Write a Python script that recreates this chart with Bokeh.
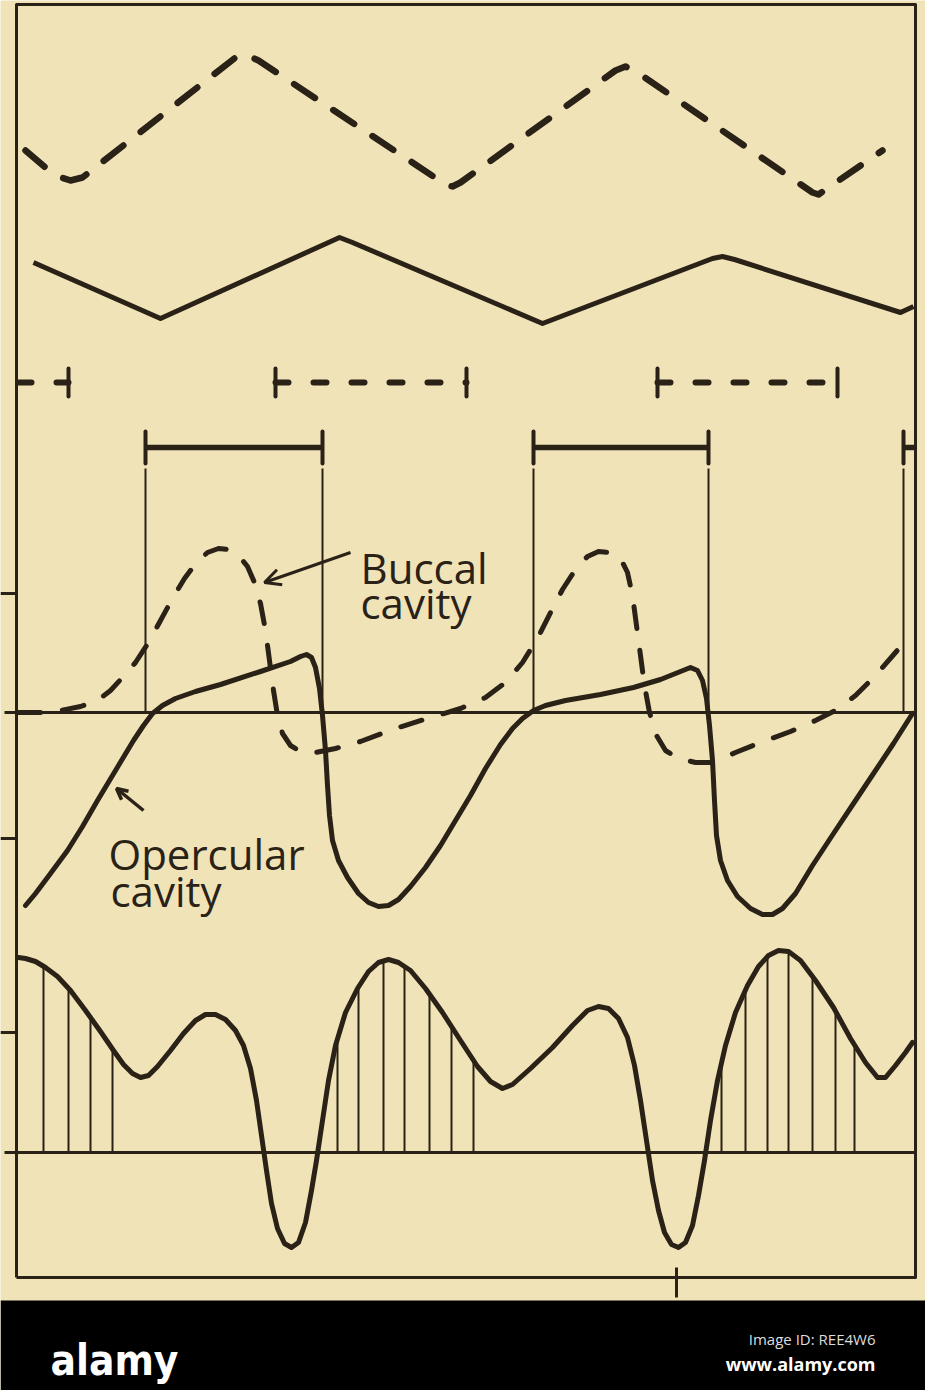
import numpy as np
from bokeh.plotting import figure
from bokeh.models import Range1d, Arrow, OpenHead
from bokeh.core.properties import value
from bokeh.embed import file_html
from bokeh.resources import INLINE

# ---------------- data (time in arbitrary units, values in arbitrary pressure units) ----------
# top trace: dashed zig-zag
t_top = [0.7, 2.7, 4.0, 5.2, 6.4, 21.7, 22.7, 24.0, 42.7, 43.4, 44.2, 59.7, 60.7, 61.9, 79.4, 80.0, 80.7, 86.4]
v_top = [5.0, 3.3, 2.4, 2.0, 2.3, 14.3, 14.6, 14.0, 1.6, 1.4, 1.8, 13.0, 13.4, 12.8, 0.8, 0.6, 1.1, 5.0]

# second trace: solid zig-zag
t_zig = [1.5, 14.2, 31.0, 32.1, 33.4, 52.4, 69.4, 70.4, 71.6, 88.2, 89.5]
v_zig = [6.8, 1.2, 8.8, 9.3, 8.8, 0.7, 7.2, 7.4, 7.1, 1.8, 2.4]

# phase bars
dash_start = [0.0, 25.7, 63.9]
dash_end = [5.0, 44.8, 81.9]
solid_start = [12.7, 51.5, 88.5]
solid_end = [30.4, 69.0, 89.7]

# buccal cavity pressure
t_buc = [0.0, 2.2, 4.2, 6.2, 7.9, 9.2, 10.4, 11.7, 13.0, 14.2, 15.4, 16.6, 17.8, 18.9, 20.0,
         21.0, 22.0, 22.9, 23.6, 24.2, 24.7, 25.1, 25.5, 25.9, 26.4, 27.2, 28.2, 29.7, 31.7,
         34.2, 37.7, 41.2, 44.2, 46.7, 48.7, 50.4, 51.9, 53.2, 54.4, 55.7, 56.9, 58.0, 59.2,
         60.2, 60.9, 61.4, 61.8, 62.2, 62.6, 63.1, 63.8, 64.7, 66.0, 67.7, 69.4, 71.7, 74.2,
         77.2, 79.7, 81.7, 83.7, 85.7, 87.7, 89.2]
v_buc = [0.0, 0.0, 0.2, 0.6, 1.2, 2.2, 3.5, 5.0, 7.0, 9.2, 11.4, 13.4, 15.0, 16.0, 16.4,
         16.3, 15.7, 14.6, 13.0, 10.9, 8.2, 5.2, 2.2, -0.3, -2.1, -3.3, -3.9, -4.0, -3.6,
         -2.9, -1.6, -0.5, 0.4, 1.5, 3.0, 5.0, 7.4, 10.0, 12.3, 14.3, 15.6, 16.1, 16.0,
         15.4, 14.0, 11.7, 8.7, 5.7, 2.7, 0.0, -2.3, -3.8, -4.6, -5.0, -5.0, -4.0, -3.0,
         -1.9, -0.8, 0.2, 1.7, 3.7, 6.0, 7.7]

# opercular cavity pressure
t_op = [0.7, 1.7, 3.2, 4.9, 6.4, 7.9, 9.7, 11.5, 12.5, 13.4, 14.4, 15.7, 17.7, 20.2, 24.2,
        27.2, 28.2, 28.8, 29.3, 29.7, 30.1, 30.4, 30.7, 30.9, 31.1, 31.4, 32.0, 32.9, 34.0,
        35.0, 36.0, 37.0, 38.0, 39.2, 40.7, 42.2, 43.7, 45.2, 46.7, 48.2, 49.4, 50.4, 51.5,
        52.7, 54.7, 58.2, 61.5, 64.2, 66.2, 67.2, 67.9, 68.4, 68.8, 69.1, 69.4, 69.6, 69.8,
        70.2, 70.9, 71.9, 73.2, 74.4, 75.4, 76.4, 77.7, 79.4, 81.5, 83.5, 85.5, 87.5, 89.4]
v_op = [-19.3, -18.1, -16.1, -13.8, -11.4, -8.8, -5.8, -2.8, -1.3, -0.1, 0.7, 1.4, 2.1, 2.8, 4.1,
        5.1, 5.6, 5.8, 5.5, 4.5, 2.4, -0.3, -3.8, -7.3, -10.3, -12.8, -14.8, -16.5, -18.1,
        -19.0, -19.4, -19.3, -18.7, -17.4, -15.5, -13.3, -10.8, -8.3, -5.6, -3.2, -1.6, -0.6, 0.2,
        0.7, 1.2, 1.8, 2.5, 3.3, 4.1, 4.5, 4.2, 3.2, 1.4, -1.3, -4.8, -8.8, -12.3,
        -14.8, -16.8, -18.4, -19.6, -20.2, -20.2, -19.6, -18.1, -15.3, -12.1, -9.1, -6.1, -3.1, -0.1]

# differential pressure (bottom trace)
t_dif = [0.0, 0.7, 1.7, 2.7, 3.9, 5.2, 6.7, 8.2, 9.5, 10.5, 11.4, 12.2, 13.0, 13.9, 15.2,
         16.5, 17.7, 18.7, 19.7, 20.7, 21.7, 22.5, 23.2, 23.8, 24.3, 24.8, 25.3, 25.9, 26.6,
         27.3, 28.0, 28.7, 29.3, 29.8, 30.4, 31.0, 31.7, 32.7, 33.9, 35.0, 36.0, 37.0, 38.0,
         39.2, 40.7, 42.4, 44.2, 45.9, 47.2, 48.4, 49.4, 51.2, 53.4, 55.4, 56.9, 58.0, 59.0,
         60.0, 60.9, 61.6, 62.2, 62.8, 63.4, 64.0, 64.6, 65.3, 66.0, 66.7, 67.4, 68.0, 68.6,
         69.2, 69.9, 70.7, 71.7, 72.9, 74.0, 75.0, 76.0, 77.0, 78.2, 79.7, 81.5, 83.2, 84.7,
         85.9, 86.7, 87.7, 88.7, 89.4]
v_dif = [19.5, 19.4, 19.1, 18.5, 17.6, 16.2, 14.2, 12.1, 10.2, 8.8, 7.9, 7.5, 7.7, 8.6, 10.2,
         11.9, 13.2, 13.8, 13.8, 13.3, 12.2, 10.7, 8.4, 5.2, 1.7, -1.8, -5.1, -7.6, -9.1,
         -9.5, -9.0, -7.0, -3.8, -0.8, 3.2, 7.2, 10.7, 14.0, 16.4, 18.1, 19.0, 19.3, 19.0,
         18.2, 16.4, 14.0, 11.2, 8.6, 7.1, 6.4, 6.8, 8.4, 10.5, 12.7, 14.2, 14.6, 14.4,
         13.4, 11.5, 8.7, 5.2, 1.2, -2.8, -5.8, -8.0, -9.2, -9.5, -9.0, -7.3, -4.3, -0.8,
         3.2, 7.2, 10.7, 14.0, 16.7, 18.6, 19.7, 20.2, 20.1, 19.2, 17.2, 14.5, 11.4, 9.0,
         7.5, 7.5, 8.7, 10.0, 11.0]

# hatching times (forward flow)
t_hatch = [2.5, 5.0, 7.2, 9.4,
           31.9, 34.0, 36.5, 38.6, 41.1, 43.3, 45.5,
           70.3, 72.7, 74.9, 77.0, 79.4, 81.7, 83.6]

# ---------------- layout (positions of each trace on the sheet) ----------------
INK = "#2A2117"
PAPER = "#F1E3B8"
BASE_TOP = 119.0
BASE_ZIG = 106.0
ROW_DASH = 100.8
ROW_SOLID = 94.3
ZERO_MID = 67.8
ZERO_BOT = 23.8
F_LEFT, F_RIGHT, F_TOP, F_BOT = -0.2, 89.7, 138.6, 11.3
X0, X1 = -1.8, 90.7

p = figure(width=925, height=1390, output_backend="svg", toolbar_location=None,
           x_range=Range1d(X0, X1), y_range=Range1d(0.0, 139.0),
           min_border=0, min_border_left=0, min_border_right=0,
           min_border_top=0, min_border_bottom=0)
p.xaxis.visible = False
p.yaxis.visible = False
p.grid.visible = False
p.outline_line_color = None
p.background_fill_color = PAPER
p.border_fill_color = PAPER

# frame
p.line([F_LEFT, F_LEFT, F_RIGHT, F_RIGHT, F_LEFT], [F_BOT, F_TOP, F_TOP, F_BOT, F_BOT],
       line_color=INK, line_width=3, line_join="round")
# zero lines
p.segment(x0=[-1.4, -1.4], y0=[ZERO_MID, ZERO_BOT], x1=[F_RIGHT, F_RIGHT], y1=[ZERO_MID, ZERO_BOT],
          line_color=INK, line_width=3)
# left scale ticks
tick_y = [79.7, 55.2, 35.8]
p.segment(x0=[X0] * 3, y0=tick_y, x1=[F_LEFT] * 3, y1=tick_y, line_color=INK, line_width=3)
# bottom time tick
p.segment(x0=[65.8], y0=[12.3], x1=[65.8], y1=[9.3], line_color=INK, line_width=3)

# top dashed zig-zag
p.line(t_top, [BASE_TOP + v for v in v_top], line_color=INK, line_width=6.5,
       line_dash="25 22", line_cap="round", line_join="round")
# solid zig-zag
p.line(t_zig, [BASE_ZIG + v for v in v_zig], line_color=INK, line_width=5, line_join="round")

# dashed phase bars
p.segment(x0=dash_start, y0=[ROW_DASH] * 3, x1=dash_end, y1=[ROW_DASH] * 3,
          line_color=INK, line_width=6, line_dash="13 25", line_cap="round")
dtx = [t for t in dash_start + dash_end if F_LEFT + 0.5 < t < F_RIGHT - 0.5]
p.segment(x0=dtx, y0=[ROW_DASH - 1.4] * len(dtx), x1=dtx, y1=[ROW_DASH + 1.4] * len(dtx),
          line_color=INK, line_width=4, line_cap="round")

# solid phase bars
p.segment(x0=solid_start, y0=[ROW_SOLID] * 3, x1=solid_end, y1=[ROW_SOLID] * 3,
          line_color=INK, line_width=5.5)
stx = [t for t in solid_start + solid_end if F_LEFT + 0.5 < t < F_RIGHT - 0.5]
p.segment(x0=stx, y0=[ROW_SOLID - 1.6] * len(stx), x1=stx, y1=[ROW_SOLID + 1.6] * len(stx),
          line_color=INK, line_width=4, line_cap="round")
p.segment(x0=stx, y0=[ZERO_MID] * len(stx), x1=stx, y1=[ROW_SOLID - 2.1] * len(stx),
          line_color=INK, line_width=2)

# buccal (dashed) and opercular (solid)
p.line(t_buc, [ZERO_MID + v for v in v_buc], line_color=INK, line_width=5,
       line_dash="22 22", line_cap="round", line_join="round")
p.line(t_op, [ZERO_MID + v for v in v_op], line_color=INK, line_width=5,
       line_join="round", line_cap="round")

# differential trace with hatching
top_h = np.interp(t_hatch, t_dif, v_dif)
p.segment(x0=t_hatch, y0=[ZERO_BOT] * len(t_hatch), x1=t_hatch, y1=list(ZERO_BOT + top_h),
          line_color=INK, line_width=2)
p.line(t_dif, [ZERO_BOT + v for v in v_dif], line_color=INK, line_width=5,
       line_join="round", line_cap="round")

# labels
lab_font = value("Open Sans")
p.text(x=[34.2, 34.2, 9.0, 9.2], y=[82.3, 78.8, 53.7, 50.0],
       text=["Buccal", "cavity", "Opercular", "cavity"],
       text_font=lab_font, text_font_size=value("42px"), text_color=INK,
       text_baseline="alphabetic", text_align="left")
p.add_layout(Arrow(end=OpenHead(size=16, line_width=3, line_color=INK),
                   x_start=33.2, y_start=83.8, x_end=24.6, y_end=80.8,
                   line_color=INK, line_width=3))
p.add_layout(Arrow(end=OpenHead(size=11, line_width=3.5, line_color=INK),
                   x_start=12.5, y_start=58.0, x_end=9.8, y_end=60.2,
                   line_color=INK, line_width=3.5))

# stock-photo banner
p.quad(left=[X0], right=[X1], bottom=[0.0], top=[9.0], fill_color="black", line_color=None)
p.text(x=[3.2], y=[3.0], text=["alamy"], text_font=value("DejaVu Sans Condensed"),
       text_font_style="bold", text_font_size=value("42px"), text_color="white",
       text_baseline="alphabetic", text_align="left")
p.text(x=[85.7], y=[5.2], text=["Image ID: REE4W6"], text_font=value("Open Sans"),
       text_font_size=value("15px"), text_color="#DDDDDD",
       text_baseline="alphabetic", text_align="right")
p.text(x=[85.7], y=[2.7], text=["www.alamy.com"], text_font=value("Open Sans"),
       text_font_style="bold", text_font_size=value("18px"), text_color="white",
       text_baseline="alphabetic", text_align="right")

open("out.html", "w").write(file_html(p, INLINE))
